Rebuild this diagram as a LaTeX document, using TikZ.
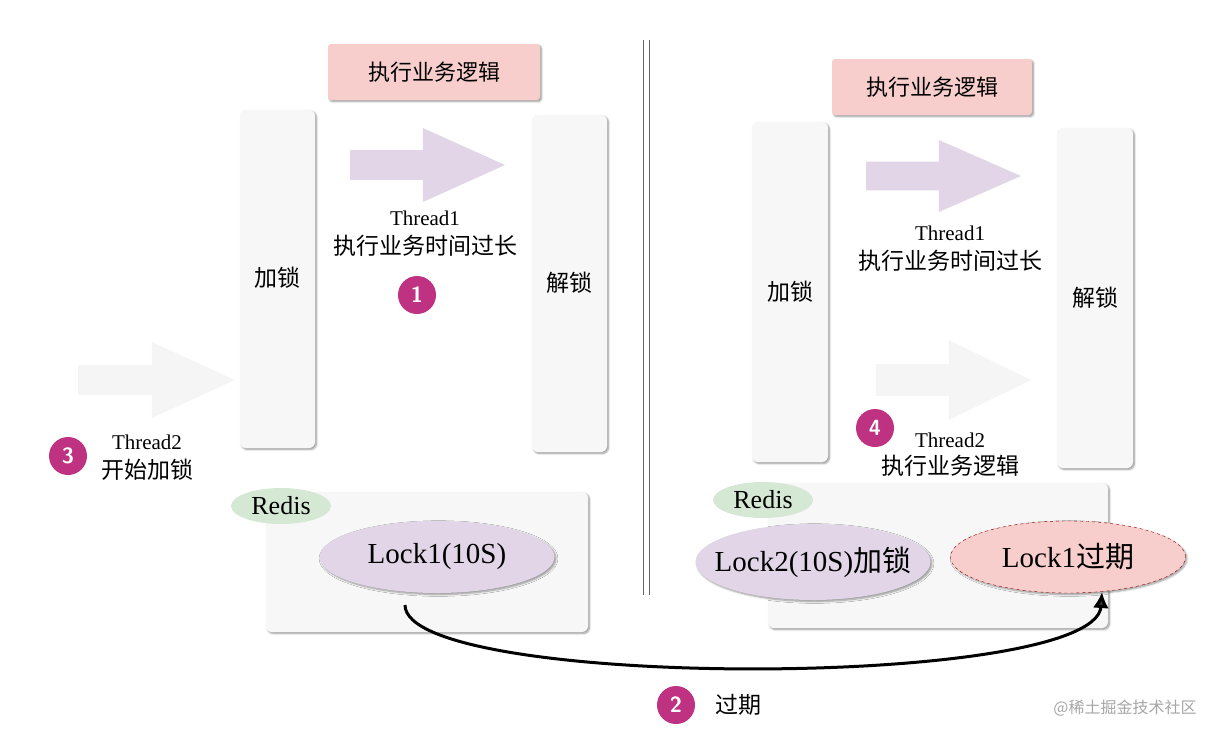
\documentclass[tikz,border=0pt]{standalone}
\usepackage{fontspec}
\setmainfont{Liberation Serif}
\newfontfamily\cjk{Noto Sans CJK SC}
\usetikzlibrary{shapes.geometric,shadows.blur,arrows.meta}
\definecolor{lav}{HTML}{E1D5E7}
\definecolor{pk}{HTML}{F8CECC}
\definecolor{gn}{HTML}{D5E8D4}
\begin{document}
\begin{tikzpicture}[x=1pt,y=-1pt,
  shad/.style={blur shadow={shadow blur steps=5,shadow xshift=1.5pt,shadow yshift=-1.5pt}},
  tall/.style={draw=none,fill=gray!6,rounded corners=6pt,shad},
  pinkbox/.style={fill=pk,rounded corners=3pt,shad,minimum width=212pt,minimum height=56pt,font=\cjk\fontsize{22}{26}\selectfont},
  ell/.style={ellipse,minimum width=235pt,minimum height=72pt,inner xsep=0pt,font=\fontsize{29}{32}\selectfont,shad},
  redis/.style={ellipse,fill=gn,minimum width=100pt,minimum height=36pt,font=\fontsize{26}{30}\selectfont},
  num/.style={circle,fill=magenta!75!black,text=white,minimum size=38pt,inner sep=0pt,font=\fontsize{22}{24}\selectfont\sffamily\bfseries},
  zh/.style={font=\cjk\fontsize{23}{26}\selectfont},
  en/.style={font=\fontsize{21}{24}\selectfont},
  parr/.style={fill=lav},
  garr/.style={fill=gray!8}]
\useasboundingbox (0,0) rectangle (1226,740);
\newcommand\arr[5]{% style, xleft, ytop, length, height
  \fill[#1] (#2,#3+0.3*#5) -- (#2+0.47*#4,#3+0.3*#5) -- (#2+0.47*#4,#3) -- (#2+#4,#3+0.5*#5) -- (#2+0.47*#4,#3+#5) -- (#2+0.47*#4,#3+0.7*#5) -- (#2,#3+0.7*#5) -- cycle;}
% left
\node[pinkbox] (p1) at (434,72) {执行业务逻辑};
\draw[tall] (240,110) rectangle (315,448);
\node[zh] (l1) at (277,278) {加锁};
\draw[tall] (532,115) rectangle (607,452);
\node[zh] (u1) at (569,283) {解锁};
\arr{parr}{350}{128}{155}{74}
\node[en] (t1) at (425,218) {Thread1};
\node[zh] (t1b) at (425,246) {执行业务时间过长};
\node[num] (n1) at (417,295) {1};
\arr{garr}{78}{342}{157}{76}
\node[num] (n3) at (68,456) {3};
\node[en] (t2) at (147,442) {Thread2};
\node[zh] (t2b) at (147,470) {开始加锁};
\draw[tall] (266,492) rectangle (588,632);
\node[redis] (r1) at (281,506) {Redis};
\node[ell,fill=lav] (k1) at (437,557) {Lock1(10S)};
% divider
\draw[gray!80!black] (643,40) -- (643,595) (649,40) -- (649,595);
% right
\node[pinkbox,minimum width=200pt] (p2) at (932,87) {执行业务逻辑};
\draw[tall] (752,122) rectangle (828,462);
\node[zh] (l2) at (790,292) {加锁};
\draw[tall] (1057,128) rectangle (1133,468);
\node[zh] (u2) at (1095,298) {解锁};
\arr{parr}{866}{140}{155}{72}
\node[en] (t3) at (950,233) {Thread1};
\node[zh] (t3b) at (950,261) {执行业务时间过长};
\arr{garr}{876}{340}{155}{80}
\node[num] (n4) at (875,428) {4};
\node[en] (t4) at (950,440) {Thread2};
\node[zh] (t4b) at (950,466) {执行业务逻辑};
\draw[tall] (768,483) rectangle (1108,628);
\node[redis] (r2) at (763,500) {Redis};
\node[ell,fill=lav,minimum height=76pt,inner xsep=-24pt] (k2) at (813,562) {Lock2(10S)\cjk 加锁};
\node[ell,fill=pk,draw=red!60!black,dashed] (k3) at (1068,557) {Lock1\cjk 过期};
% curve
\coordinate (s) at (405,605);
\coordinate (e) at (1102,592);
\draw[line width=3pt,-{Latex[length=16pt,width=16pt]}] (s) .. controls (405,690) and (1095,690) .. (e);
\node[num] (n2) at (676,705) {2};
\node[zh,anchor=west] (g) at (712,705) {过期};
\node[font=\cjk\fontsize{16}{18}\selectfont,text=gray!70] (wm) at (1125,708) {@稀土掘金技术社区};
\end{tikzpicture}
\end{document}
